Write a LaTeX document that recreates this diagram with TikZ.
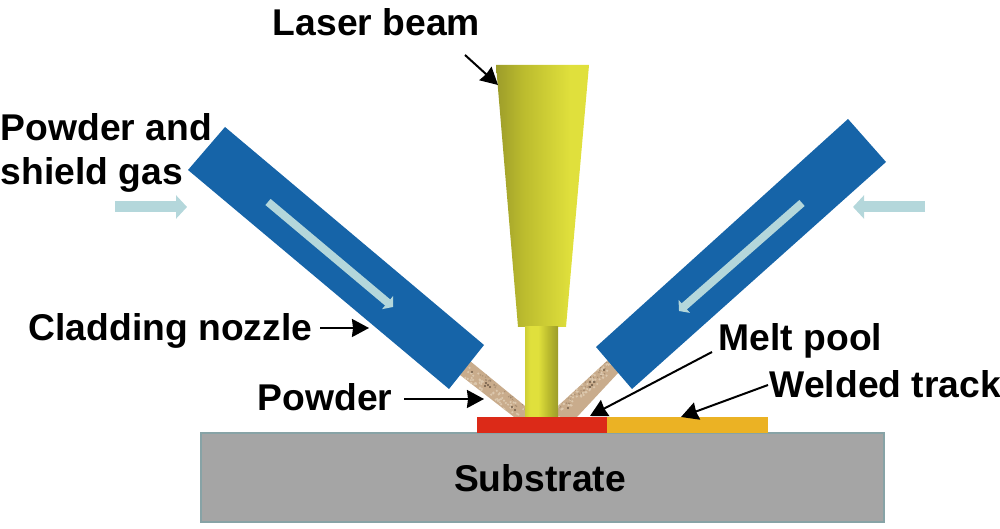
\documentclass[tikz,border=0pt]{standalone}
\usepackage{fontspec}
\setmainfont{Liberation Sans}
\usetikzlibrary{calc}
\usetikzlibrary{arrows.meta}
\definecolor{nozzleblue}{HTML}{1664A8}
\definecolor{flowblue}{HTML}{B4D7DB}
\definecolor{powdertan}{HTML}{C9AC8C}
\definecolor{powderdark}{HTML}{6E5A46}
\definecolor{powderlight}{HTML}{DCC8AE}
\definecolor{poolred}{HTML}{DC2A18}
\definecolor{trackorange}{HTML}{EBB224}
\definecolor{substrategray}{HTML}{A5A5A5}
\definecolor{substrateedge}{HTML}{87A3A6}
\definecolor{beamdark}{HTML}{9C9C2A}
\definecolor{beammid}{HTML}{BCBC2E}
\definecolor{beambright}{HTML}{E0E03C}
\pgfdeclarehorizontalshading{beamtop}{100bp}{color(0bp)=(beamdark); color(25bp)=(beamdark); color(40bp)=(beammid); color(65bp)=(beambright); color(75bp)=(beambright); color(100bp)=(beambright)}
\pgfdeclarehorizontalshading{beamstem}{100bp}{color(0bp)=(beammid!50!beambright); color(25bp)=(beammid!50!beambright); color(33bp)=(beambright); color(45bp)=(beambright); color(60bp)=(beammid); color(75bp)=(beamdark); color(100bp)=(beamdark)}
\tikzset{
  labeltext/.style={inner sep=0pt, font=\fontsize{10.6}{12.6}\selectfont\bfseries},
  pointer/.style={line width=0.020cm, -{Stealth[length=0.17cm,width=0.18cm,inset=0.01cm]}},
  flowarrow/.style={draw=flowblue, line width=0.11cm, -{Triangle[length=0.11cm,width=0.23cm]}},
  flowinner/.style={draw=flowblue, line width=0.08cm, -{Triangle[length=0.07cm,width=0.17cm]}},
}
\begin{document}
\begin{tikzpicture}
  \useasboundingbox (0.000000,0.000000) rectangle (10.000000,5.290000);

  % Drawing substrate
  \fill [substrategray] (2.010000,0.070000) rectangle (8.840000,0.960000);
  \draw [substrateedge, line width=0.020cm] (2.010000,0.070000) rectangle (8.840000,0.960000);

  % Drawing powder streams
  \fill [powdertan] (4.700000,1.680000) -- (4.600000,1.540000) -- (5.140000,1.120000) -- (5.250000,1.120000) -- (5.250000,1.230000) -- cycle;
  \fill [powdertan] (6.080000,1.690000) -- (6.190000,1.570000) -- (5.770000,1.120000) -- (5.580000,1.120000) -- (5.580000,1.230000) -- cycle;
  \pgfmathsetseed{11}
  \begin{scope}
    \clip (4.700000,1.680000) -- (4.600000,1.540000) -- (5.140000,1.120000) -- (5.250000,1.120000) -- (5.250000,1.230000) -- cycle;
    \foreach \i in {1,...,70} {
      \pgfmathsetmacro{\px}{4.6+0.65*rnd}
      \pgfmathsetmacro{\py}{1.62-0.78*(\px-4.6)+0.16*(rnd-0.5)}
      \fill [powderlight] (\px,\py) circle (0.012000);
      \fill [powderdark, opacity=0.35] (\py*0.1+\px,\py+0.03) circle (0.008000);
    }
  \end{scope}
  \begin{scope}
    \clip (6.080000,1.690000) -- (6.190000,1.570000) -- (5.770000,1.120000) -- (5.580000,1.120000) -- (5.580000,1.230000) -- cycle;
    \foreach \i in {1,...,70} {
      \pgfmathsetmacro{\px}{5.58+0.61*rnd}
      \pgfmathsetmacro{\py}{1.19+0.83*(\px-5.58)+0.16*(rnd-0.5)}
      \fill [powderlight] (\px,\py) circle (0.012000);
      \fill [powderdark, opacity=0.35] (\px-0.02,\py+0.02) circle (0.008000);
    }
  \end{scope}
  \foreach \px/\py in {4.860000/1.460000, 4.880000/1.440000, 4.900000/1.420000, 4.850000/1.430000, 5.120000/1.220000, 5.150000/1.190000, 4.720000/1.570000, 5.900000/1.470000, 5.920000/1.440000, 5.940000/1.470000, 5.900000/1.420000, 5.680000/1.210000, 6.040000/1.590000}
    \fill [powderdark] (\px,\py) circle (0.012000);

  % Drawing laser beam
  \shade [shading=beamtop] (4.960000,4.640000) -- (5.890000,4.640000) -- (5.660000,2.020000) -- (5.180000,2.020000) -- cycle;
  \shade [shading=beamstem] (5.250000,2.020000) rectangle (5.580000,1.120000);

  % Drawing melt pool and welded track
  \fill [poolred] (4.770000,1.120000) rectangle (6.070000,0.960000);
  \fill [trackorange] (6.070000,1.120000) rectangle (7.680000,0.960000);

  % Drawing nozzles
  \fill [nozzleblue] (2.250000,4.020000) -- (1.880000,3.590000) -- (4.490000,1.400000) -- (4.840000,1.840000) -- cycle;
  \fill [nozzleblue] (8.480000,4.100000) -- (8.860000,3.670000) -- (6.320000,1.400000) -- (5.960000,1.820000) -- cycle;

  % Drawing flow arrows
  \coordinate (flowleftA) at (1.150000,3.220000);
  \coordinate (flowleftB) at (1.870000,3.220000);
  \coordinate (flowrightA) at (9.250000,3.220000);
  \coordinate (flowrightB) at (8.530000,3.220000);
  \coordinate (innerleftA) at (2.680000,3.270000);
  \coordinate (innerleftB) at (3.930000,2.220000);
  \coordinate (innerrightA) at (8.020000,3.260000);
  \coordinate (innerrightB) at (6.790000,2.180000);
  \draw [flowarrow] (flowleftA) -- (flowleftB);
  \draw [flowarrow] (flowrightA) -- (flowrightB);
  \draw [flowinner] (innerleftA) -- (innerleftB);
  \draw [flowinner] (innerrightA) -- (innerrightB);

  % Marking labels
  \node [labeltext] (laserlabel) at (3.765000,5.070000) {Laser beam};
  \node [labeltext, align=left, anchor=west] (gaslabel) at (0.000000,3.760000) {Powder and\\shield gas};
  \node [labeltext, anchor=west] (nozzlelabel) at (0.280000,1.980000) {Cladding nozzle};
  \node [labeltext, anchor=west] (powderlabel) at (2.570000,1.320000) {Powder};
  \node [labeltext, anchor=west] (poollabel) at (7.180000,1.880000) {Melt pool};
  \node [labeltext, anchor=west] (tracklabel) at (7.690000,1.450000) {Welded track};
  \node [labeltext] (substratelabel) at (5.400000,0.510000) {Substrate};

  % Drawing pointers
  \coordinate (lasertail) at (4.650000,4.740000);
  \coordinate (nozzletail) at (3.200000,2.010000);
  \coordinate (powdertail) at (4.040000,1.300000);
  \coordinate (pooltail) at (7.120000,1.770000);
  \coordinate (tracktail) at (7.680000,1.440000);
  \coordinate (lasertip) at (4.980000,4.440000);
  \coordinate (nozzletip) at (3.690000,2.010000);
  \coordinate (powdertip) at (4.840000,1.300000);
  \coordinate (pooltip) at (5.900000,1.130000);
  \coordinate (tracktip) at (6.810000,1.120000);
  \draw [pointer] (lasertail) -- (lasertip);
  \draw [pointer] (nozzletail) -- (nozzletip);
  \draw [pointer] (powdertail) -- (powdertip);
  \draw [pointer] (pooltail) -- (pooltip);
  \draw [pointer] (tracktail) -- (tracktip);
\end{tikzpicture}
\end{document}
